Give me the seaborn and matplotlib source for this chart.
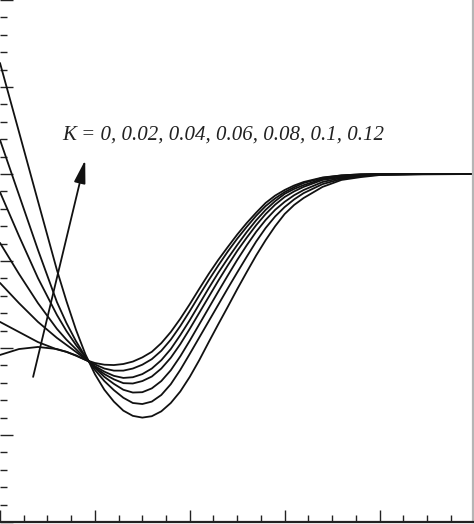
"""Velocity-like profiles for several K values (line chart, seaborn)."""

import matplotlib
matplotlib.use("Agg")
import matplotlib.pyplot as plt
import pandas as pd
import seaborn as sns
from matplotlib.ticker import MultipleLocator

sns.set_theme(style="white")
plt.rcParams["font.family"] = ["Liberation Serif", "DejaVu Serif"]

# data
eta = [0.0, 0.2, 0.4, 0.6, 0.7, 0.8, 0.9, 1.0, 1.1, 1.2, 1.3, 1.4, 1.5, 1.6,
       1.7, 1.8, 1.9, 2.0, 2.1, 2.2, 2.3, 2.4, 2.5, 2.6, 2.7, 2.8, 2.9, 3.0,
       3.1, 3.2, 3.4, 3.6, 3.8, 4.0, 4.5, 5.0]

k_values = ["0", "0.02", "0.04", "0.06", "0.08", "0.1", "0.12"]

f_k0 = [0.480, 0.497, 0.503, 0.497,
        0.489, 0.478, 0.466, 0.457, 0.452, 0.451, 0.454, 0.461, 0.473, 0.489,
        0.514, 0.546, 0.584, 0.626, 0.670, 0.713, 0.753, 0.790, 0.826, 0.859,
        0.889, 0.917, 0.938, 0.954, 0.967, 0.977,
        0.990, 0.996, 0.999, 1.0, 1.0, 1.0]
f_k002 = [0.575, 0.546, 0.517, 0.496,
          0.489, 0.479, 0.466, 0.453, 0.441, 0.435, 0.435, 0.441, 0.452, 0.468,
          0.492, 0.524, 0.563, 0.606, 0.651, 0.695, 0.737, 0.777, 0.814, 0.848,
          0.880, 0.908, 0.930, 0.948, 0.962, 0.974,
          0.989, 0.996, 0.999, 1.0, 1.0, 1.0]
f_k004 = [0.687, 0.629, 0.575, 0.529,
          0.509, 0.489, 0.468, 0.448, 0.432, 0.420, 0.414, 0.416, 0.425, 0.441,
          0.465, 0.497, 0.537, 0.580, 0.626, 0.672, 0.716, 0.757, 0.796, 0.833,
          0.867, 0.897, 0.922, 0.943, 0.957, 0.968,
          0.986, 0.994, 0.998, 0.999, 1.0, 1.0]
f_k006 = [0.802, 0.713, 0.629, 0.555,
          0.524, 0.497, 0.470, 0.445, 0.425, 0.410, 0.399, 0.398, 0.405, 0.418,
          0.441, 0.472, 0.511, 0.555, 0.601, 0.647, 0.693, 0.737, 0.779, 0.817,
          0.853, 0.885, 0.912, 0.934, 0.950, 0.963,
          0.983, 0.991, 0.997, 0.999, 1.0, 1.0]
f_k008 = [0.948, 0.822, 0.701, 0.595,
          0.549, 0.509, 0.474, 0.443, 0.417, 0.397, 0.380, 0.372, 0.373, 0.384,
          0.405, 0.436, 0.476, 0.521, 0.568, 0.615, 0.662, 0.708, 0.753, 0.795,
          0.834, 0.868, 0.897, 0.920, 0.939, 0.954,
          0.977, 0.989, 0.996, 0.999, 1.0, 1.0]
f_k010 = [1.098, 0.940, 0.782, 0.632,
          0.572, 0.520, 0.475, 0.437, 0.405, 0.379, 0.357, 0.342, 0.339, 0.346,
          0.365, 0.396, 0.437, 0.483, 0.530, 0.577, 0.624, 0.671, 0.717, 0.762,
          0.806, 0.845, 0.878, 0.905, 0.927, 0.945,
          0.971, 0.986, 0.994, 0.998, 0.999, 1.0]
f_k012 = [1.319, 1.121, 0.922, 0.724,
          0.635, 0.553, 0.482, 0.425, 0.380, 0.346, 0.320, 0.305, 0.300, 0.304,
          0.318, 0.342, 0.375, 0.417, 0.465, 0.517, 0.568, 0.618, 0.669, 0.718,
          0.766, 0.810, 0.850, 0.885, 0.911, 0.931,
          0.963, 0.983, 0.991, 0.997, 1.0, 1.0]

profiles = [f_k0, f_k002, f_k004, f_k006, f_k008, f_k010, f_k012]

df = pd.concat(
    [pd.DataFrame({"eta": eta, "f": vals, "K": k}) for k, vals in zip(k_values, profiles)],
    ignore_index=True,
)

fig = plt.figure(figsize=(4.74, 5.24), dpi=100)
ax = fig.add_axes([0.0, 2 / 524, 472.5 / 474, 522 / 524])

sns.lineplot(data=df, x="eta", y="f", hue="K", palette={k: "#111111" for k in k_values},
             estimator=None, legend=False, linewidth=1.3, ax=ax)

ax.set_xlim(0, 4.98)
ax.set_ylim(0, 1.5)
ax.set_xlabel("")
ax.set_ylabel("")

ax.xaxis.set_major_locator(MultipleLocator(1.0))
ax.xaxis.set_minor_locator(MultipleLocator(0.25))
ax.yaxis.set_major_locator(MultipleLocator(0.25))
ax.yaxis.set_minor_locator(MultipleLocator(0.05))
ax.tick_params(which="both", direction="in", labelleft=False, labelbottom=False,
               left=True, bottom=True, top=False, right=False, color="#222222")
ax.tick_params(which="major", length=9, width=1.0)
ax.tick_params(which="minor", length=5, width=1.0)

ax.spines["left"].set_visible(False)
ax.spines["top"].set_visible(False)
ax.spines["bottom"].set_color("#222222")
ax.spines["bottom"].set_linewidth(1.6)
ax.spines["right"].set_color("#b5b5b5")
ax.spines["right"].set_linewidth(1.6)

ax.annotate("", xy=(0.898, 1.040), xytext=(0.349, 0.417),
            arrowprops=dict(arrowstyle="-|>,head_length=1.4,head_width=0.35",
                            color="#111111", lw=1.3, shrinkA=0, shrinkB=0,
                            mutation_scale=10))
ax.text(0.655, 1.098, "K = 0, 0.02, 0.04, 0.06, 0.08, 0.1, 0.12",
        fontsize=15, style="italic", color="#222222", va="baseline", ha="left")

fig.savefig("out.png", dpi=100)
plt.close(fig)
